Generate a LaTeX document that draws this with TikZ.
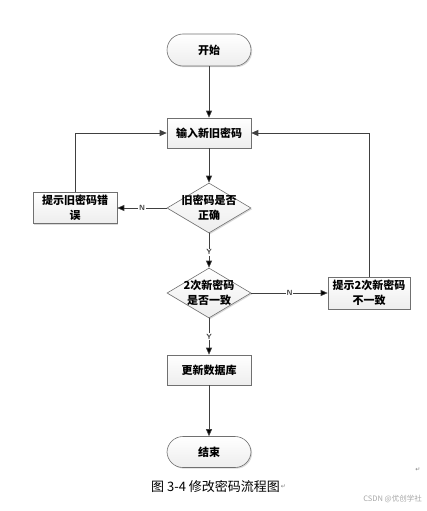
\documentclass[tikz,border=0pt]{standalone}
\usepackage{fontspec}
\usetikzlibrary{shapes.geometric,arrows.meta,shadows}
\newfontfamily\cjk{Noto Sans CJK SC}
\newfontfamily\symb{DejaVu Sans}
\definecolor{linegray}{HTML}{404040}
\definecolor{boxgray}{HTML}{707070}

\begin{document}
\begin{tikzpicture}[x=1pt,y=1pt,node distance=80pt,
                every node/.style = {font=\cjk\bfseries\fontsize{11}{15}\selectfont},
                base/.style = {draw=boxgray, line width=0.6pt, top color=white, bottom color=gray!14,
                    drop shadow={shadow xshift=1.2pt, shadow yshift=-1.2pt, fill=gray!50, opacity=0.6}},
                term/.style = {base, minimum width=84pt, minimum height=32pt, rounded corners=16pt},
                proc/.style = {base, minimum width=84pt, minimum height=30pt, inner sep=1pt, align=center},
                cond/.style = {base, diamond, aspect=1.68, minimum width=84pt, minimum height=50pt,
                    inner xsep=0pt, inner ysep=-7pt, align=center},
                flow/.style = {draw=linegray, line width=0.7pt, -{Triangle[length=7pt,width=6pt]}},
                yn/.style = {font=\sffamily\bfseries\fontsize{7.5}{8}\selectfont, fill=white, inner sep=1pt, text=linegray}]
                \useasboundingbox (0,0) rectangle (426,-511);
                \node[term] (1) at (209,-50) {开始};
                \node[proc] (2) [below of=1, node distance=83pt] {输入新旧密码};
                \node[cond] (3) [below of=2, node distance=75pt] {旧密码是否\\正确};
                \node[proc, minimum height=31pt] (4) [left of=3, node distance=134pt] {提示旧密码错\\误};
                \node[cond] (5) [below of=3, node distance=85pt] {2次新密码\\是否一致};
                \node[proc, minimum width=82pt, minimum height=32pt] (6) [right of=5, node distance=160pt] {提示2次新密码\\不一致};
                \node[proc] (7) [below of=5, node distance=77pt] {更新数据库};
                \node[term, minimum height=31pt] (8) [below of=7, node distance=82pt] {结束};
                % caption and page marks
                \node[font=\cjk\fontsize{13}{15}\selectfont, anchor=west, inner sep=0pt] (9) at (151,-487) {图 3-4 修改密码流程图};
                \node[font=\symb\fontsize{6}{7}\selectfont, text=gray, anchor=west, inner sep=0.5pt] (10) at (9.east) {↵};
                \node[font=\symb\fontsize{6}{7}\selectfont, text=gray] (11) at (418,-470) {↵};
                \node[font=\cjk\fontsize{7.5}{9}\selectfont, text=gray!70, anchor=east, inner sep=0pt] (12) at (422,-499) {CSDN @优创学社};
                \path[flow]
                    (1) edge (2)
                    (2) edge (3)
                    (3) edge node [yn] {N} (4)
                    (3) edge node [yn, pos=0.55] {Y} (5)
                    (5) edge node [yn] {N} (6)
                    (5) edge node [yn] {Y} (7)
                    (7) edge (8);
                \draw[flow] (4) |- (2);
                \draw[flow] (6) |- (2);
            \end{tikzpicture}
\end{document}
